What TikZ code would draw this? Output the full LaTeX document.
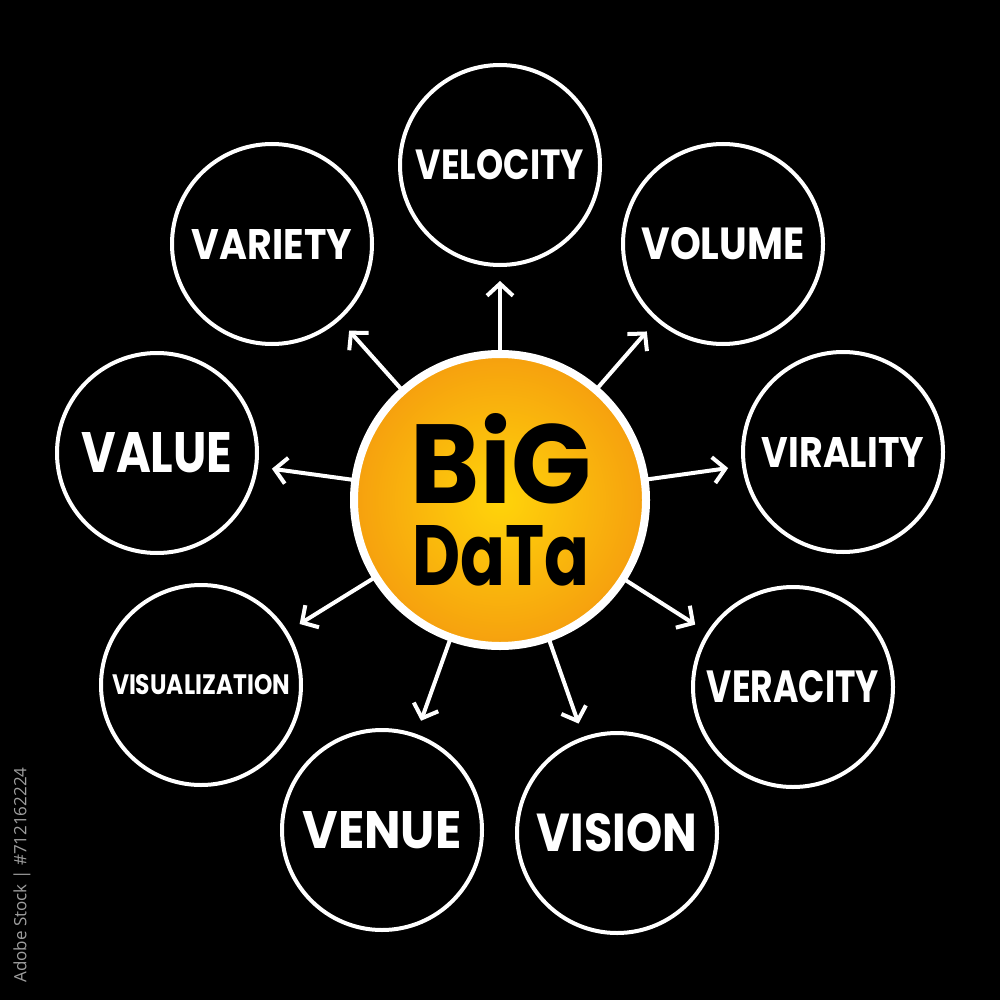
\documentclass[tikz,border=0pt]{standalone}
\usepackage{fontspec}
\usepackage{graphicx}
\setmainfont{Poppins}
\newfontfamily\sidefont{Open Sans}
\usetikzlibrary{arrows.meta}
\definecolor{sunin}{HTML}{FFD40A}
\definecolor{sunout}{HTML}{F6A00E}
\newcommand\fitlbl[3]{\resizebox{#1pt}{#2pt}{#3}}
\begin{document}
\begin{tikzpicture}[x=1pt,y=-1pt,
  bubble/.style={circle,draw=white,line width=4pt,minimum size=200pt,inner sep=0pt,text=white,font=\bfseries},
  arr/.style={draw=white,line width=4pt,-{Straight Barb[length=12pt,width=26pt]},shorten >=14pt},
  bigtext/.style={text=black,font=\bfseries,inner sep=0pt,align=center}]
\fill[black] (0,0) rectangle (1000,1000);
\useasboundingbox (0,0) rectangle (1000,1000);
% outer bubbles
\node[bubble] (velocity) at (500,165) {\fitlbl{168}{30}{VELOCITY}};
\node[bubble] (volume) at (723,244) {\fitlbl{163}{32}{VOLUME}};
\node[bubble] (virality) at (843,452) {\fitlbl{162}{30}{VIRALITY}};
\node[bubble] (veracity) at (793,687) {\fitlbl{172}{32}{VERACITY}};
\node[bubble] (vision) at (617,833) {\fitlbl{160}{38}{VISION}};
\node[bubble] (venue) at (382,830) {\fitlbl{159}{37}{VENUE}};
\node[bubble] (visualization) at (201,685) {\fitlbl{178}{20}{VISUALIZATION}};
\node[bubble] (value) at (157,453) {\fitlbl{151}{40}{VALUE}};
\node[bubble] (variety) at (272,244) {\fitlbl{160}{30}{VARIETY}};
% arrows
\coordinate (c) at (500,500);
\foreach \t in {velocity,volume,virality,veracity,vision,venue,visualization,value,variety}
  \draw[arr] (c) -- (\t);
% centre
\node[circle,minimum size=292pt,inner sep=0pt,draw=white,line width=8pt,
      inner color=sunin,outer color=sunout] (bigdata) at (500,500) {};
\node[bigtext] (bigdatatext) at (501,500) {\fitlbl{180}{90}{BiG}\\[20pt]\fitlbl{177}{60}{DaTa}};
% side credit
\node[rotate=90,text=gray!75,font=\sidefont\fontsize{17}{17}\selectfont,inner sep=0pt] (stock) at (22,875) {Adobe Stock | \#712162224};
\end{tikzpicture}
\end{document}
